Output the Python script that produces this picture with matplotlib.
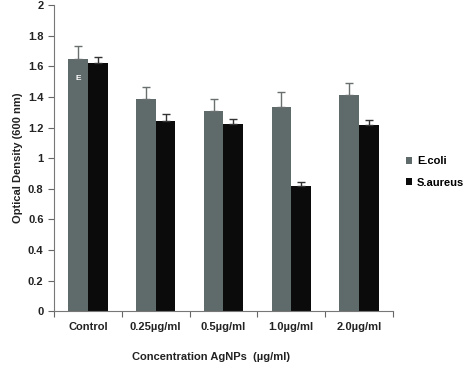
import numpy as np
import matplotlib.pyplot as plt

plt.rcParams['font.family'] = ['Liberation Sans', 'DejaVu Sans']

categories = ['Control', '0.25µg/ml', '0.5µg/ml', '1.0µg/ml', '2.0µg/ml']
ecoli = [1.645, 1.385, 1.31, 1.335, 1.41]
ecoli_err = [0.085, 0.08, 0.08, 0.095, 0.08]
saureus = [1.62, 1.24, 1.225, 0.815, 1.215]
saureus_err = [0.04, 0.05, 0.03, 0.03, 0.035]

fig = plt.figure(figsize=(4.74, 3.70), dpi=100)
ax = fig.add_axes([0.114, 0.159, 0.715, 0.827])

x = np.arange(len(categories))
w = 0.29
ax.bar(x - w / 2, ecoli, w, color='#5f6a6a', label='E.coli',
       yerr=[np.zeros(len(ecoli)), ecoli_err], ecolor='#6a7070',
       error_kw=dict(capsize=3, elinewidth=1, capthick=1))
ax.bar(x + w / 2, saureus, w, color='#0b0b0b', label='S.aureus',
       yerr=[np.zeros(len(saureus)), saureus_err], ecolor='#333333',
       error_kw=dict(capsize=3, elinewidth=1, capthick=1))
ax.text(x[0] - w / 2, 1.52, 'E', color='white', fontsize=6, fontweight='bold',
        ha='center', va='center')

ax.set_xlim(-0.5, len(categories) - 0.5)
ax.set_ylim(0, 2)
ax.set_yticks(np.arange(0, 2.01, 0.2))
ax.set_yticklabels(['0', '0.2', '0.4', '0.6', '0.8', '1', '1.2', '1.4', '1.6', '1.8', '2'])
ax.set_xticks(np.arange(-0.5, len(categories), 1))
ax.set_xticklabels([])
ax.set_xticks(x, minor=True)
ax.set_xticklabels(categories, minor=True)
ax.tick_params(axis='x', which='minor', length=0, pad=8)
ax.tick_params(axis='x', which='major', length=4, color='#666666', direction='out')
ax.tick_params(axis='y', length=4, color='#666666', direction='out')
for lab in ax.get_xticklabels(minor=True) + ax.get_yticklabels():
    lab.set_fontsize(8)
    lab.set_fontweight('bold')
    lab.set_color('#222222')

for s in ['top', 'right']:
    ax.spines[s].set_visible(False)
for s in ['left', 'bottom']:
    ax.spines[s].set_color('#777777')

ax.set_ylabel('Optical Density (600 nm)', fontsize=8, fontweight='bold', color='#222222')
ax.yaxis.set_label_coords(-0.092, 0.5)
ax.set_xlabel('Concentration AgNPs  (µg/ml)', fontsize=8, fontweight='bold', color='#222222')
ax.xaxis.set_label_coords(0.463, -0.135)

fig.legend(loc='center left', bbox_to_anchor=(0.835, 0.535), frameon=False,
           prop=dict(size=8, weight='bold'), handlelength=0.6, handleheight=0.6,
           labelspacing=1.0, handletextpad=0.4)

fig.savefig('out.png', dpi=100)
